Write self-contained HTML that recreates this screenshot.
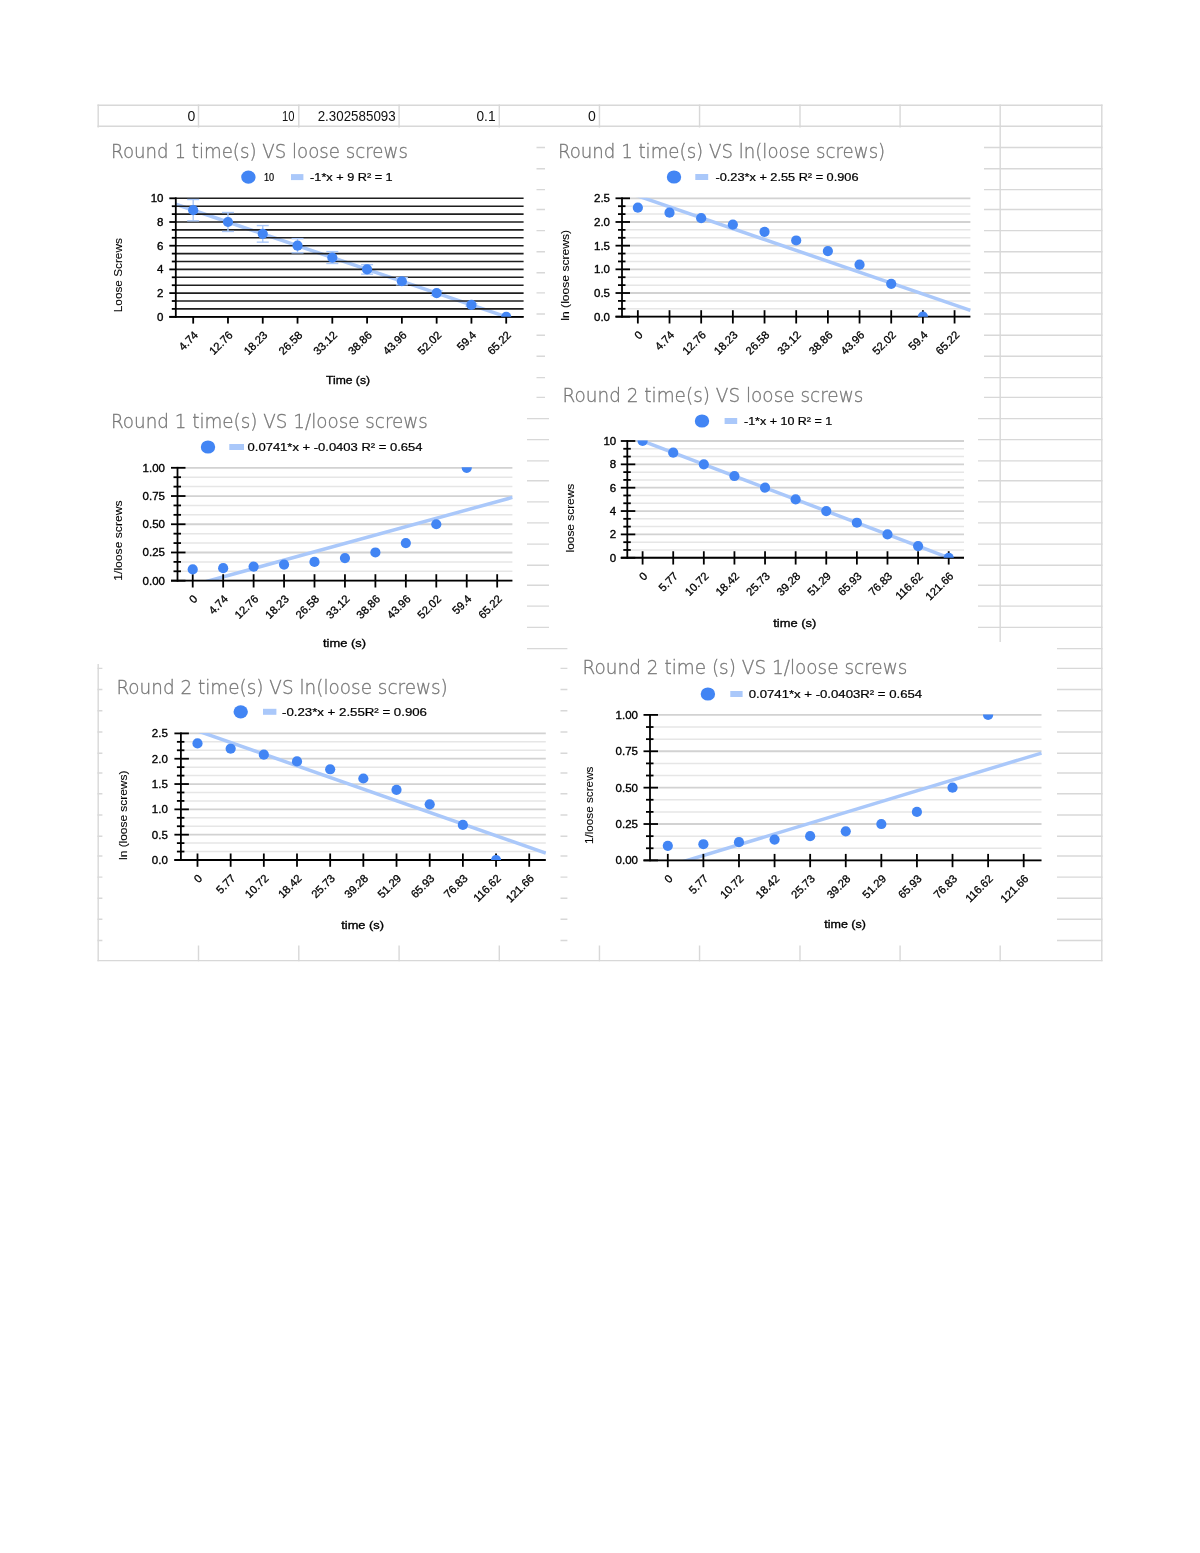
<!DOCTYPE html>
<html><head><meta charset="utf-8"><title>Charts</title>
<style>
html,body{margin:0;padding:0;background:#fff;width:1200px;height:1553px;overflow:hidden;}
svg{display:block;position:absolute;left:0;top:0;will-change:transform;}
</style></head><body>
<svg width="1200" height="1553" viewBox="0 0 1200 1553">
<line x1="98.2" y1="104.54" x2="98.2" y2="961.3" stroke="#d8d8d8" stroke-width="1.4"/>
<line x1="198.5" y1="104.54" x2="198.5" y2="961.3" stroke="#d8d8d8" stroke-width="1.4"/>
<line x1="298.8" y1="104.54" x2="298.8" y2="961.3" stroke="#d8d8d8" stroke-width="1.4"/>
<line x1="399.1" y1="104.54" x2="399.1" y2="961.3" stroke="#d8d8d8" stroke-width="1.4"/>
<line x1="499.3" y1="104.54" x2="499.3" y2="961.3" stroke="#d8d8d8" stroke-width="1.4"/>
<line x1="599.45" y1="104.54" x2="599.45" y2="961.3" stroke="#d8d8d8" stroke-width="1.4"/>
<line x1="699.55" y1="104.54" x2="699.55" y2="961.3" stroke="#d8d8d8" stroke-width="1.4"/>
<line x1="800" y1="104.54" x2="800" y2="961.3" stroke="#d8d8d8" stroke-width="1.4"/>
<line x1="900.1" y1="104.54" x2="900.1" y2="961.3" stroke="#d8d8d8" stroke-width="1.4"/>
<line x1="1000.2" y1="104.54" x2="1000.2" y2="961.3" stroke="#d8d8d8" stroke-width="1.4"/>
<line x1="1101.8" y1="104.54" x2="1101.8" y2="961.3" stroke="#d8d8d8" stroke-width="1.4"/>
<line x1="97.5" y1="105.24" x2="1102.5" y2="105.24" stroke="#d8d8d8" stroke-width="1.4"/>
<line x1="97.5" y1="126.2" x2="1102.5" y2="126.2" stroke="#d8d8d8" stroke-width="1.4"/>
<line x1="97.5" y1="147.45" x2="1102.5" y2="147.45" stroke="#d8d8d8" stroke-width="1.4"/>
<line x1="97.5" y1="168.7" x2="1102.5" y2="168.7" stroke="#d8d8d8" stroke-width="1.4"/>
<line x1="97.5" y1="189.66" x2="1102.5" y2="189.66" stroke="#d8d8d8" stroke-width="1.4"/>
<line x1="97.5" y1="209.5" x2="1102.5" y2="209.5" stroke="#d8d8d8" stroke-width="1.4"/>
<line x1="97.5" y1="230.6" x2="1102.5" y2="230.6" stroke="#d8d8d8" stroke-width="1.4"/>
<line x1="97.5" y1="251.8" x2="1102.5" y2="251.8" stroke="#d8d8d8" stroke-width="1.4"/>
<line x1="97.5" y1="272.8" x2="1102.5" y2="272.8" stroke="#d8d8d8" stroke-width="1.4"/>
<line x1="97.5" y1="292.9" x2="1102.5" y2="292.9" stroke="#d8d8d8" stroke-width="1.4"/>
<line x1="97.5" y1="313.95" x2="1102.5" y2="313.95" stroke="#d8d8d8" stroke-width="1.4"/>
<line x1="97.5" y1="335.2" x2="1102.5" y2="335.2" stroke="#d8d8d8" stroke-width="1.4"/>
<line x1="97.5" y1="356.3" x2="1102.5" y2="356.3" stroke="#d8d8d8" stroke-width="1.4"/>
<line x1="97.5" y1="377.6" x2="1102.5" y2="377.6" stroke="#d8d8d8" stroke-width="1.4"/>
<line x1="97.5" y1="397.4" x2="1102.5" y2="397.4" stroke="#d8d8d8" stroke-width="1.4"/>
<line x1="97.5" y1="418.6" x2="1102.5" y2="418.6" stroke="#d8d8d8" stroke-width="1.4"/>
<line x1="97.5" y1="439.6" x2="1102.5" y2="439.6" stroke="#d8d8d8" stroke-width="1.4"/>
<line x1="97.5" y1="460.85" x2="1102.5" y2="460.85" stroke="#d8d8d8" stroke-width="1.4"/>
<line x1="97.5" y1="480.7" x2="1102.5" y2="480.7" stroke="#d8d8d8" stroke-width="1.4"/>
<line x1="97.5" y1="501.9" x2="1102.5" y2="501.9" stroke="#d8d8d8" stroke-width="1.4"/>
<line x1="97.5" y1="522.85" x2="1102.5" y2="522.85" stroke="#d8d8d8" stroke-width="1.4"/>
<line x1="97.5" y1="544.1" x2="1102.5" y2="544.1" stroke="#d8d8d8" stroke-width="1.4"/>
<line x1="97.5" y1="565.3" x2="1102.5" y2="565.3" stroke="#d8d8d8" stroke-width="1.4"/>
<line x1="97.5" y1="585.2" x2="1102.5" y2="585.2" stroke="#d8d8d8" stroke-width="1.4"/>
<line x1="97.5" y1="606.1" x2="1102.5" y2="606.1" stroke="#d8d8d8" stroke-width="1.4"/>
<line x1="97.5" y1="627.4" x2="1102.5" y2="627.4" stroke="#d8d8d8" stroke-width="1.4"/>
<line x1="97.5" y1="648.6" x2="1102.5" y2="648.6" stroke="#d8d8d8" stroke-width="1.4"/>
<line x1="97.5" y1="668.4" x2="1102.5" y2="668.4" stroke="#d8d8d8" stroke-width="1.4"/>
<line x1="97.5" y1="689.5" x2="1102.5" y2="689.5" stroke="#d8d8d8" stroke-width="1.4"/>
<line x1="97.5" y1="710.8" x2="1102.5" y2="710.8" stroke="#d8d8d8" stroke-width="1.4"/>
<line x1="97.5" y1="732" x2="1102.5" y2="732" stroke="#d8d8d8" stroke-width="1.4"/>
<line x1="97.5" y1="753.2" x2="1102.5" y2="753.2" stroke="#d8d8d8" stroke-width="1.4"/>
<line x1="97.5" y1="773" x2="1102.5" y2="773" stroke="#d8d8d8" stroke-width="1.4"/>
<line x1="97.5" y1="793.8" x2="1102.5" y2="793.8" stroke="#d8d8d8" stroke-width="1.4"/>
<line x1="97.5" y1="815" x2="1102.5" y2="815" stroke="#d8d8d8" stroke-width="1.4"/>
<line x1="97.5" y1="836.3" x2="1102.5" y2="836.3" stroke="#d8d8d8" stroke-width="1.4"/>
<line x1="97.5" y1="856" x2="1102.5" y2="856" stroke="#d8d8d8" stroke-width="1.4"/>
<line x1="97.5" y1="877.1" x2="1102.5" y2="877.1" stroke="#d8d8d8" stroke-width="1.4"/>
<line x1="97.5" y1="898.2" x2="1102.5" y2="898.2" stroke="#d8d8d8" stroke-width="1.4"/>
<line x1="97.5" y1="919.3" x2="1102.5" y2="919.3" stroke="#d8d8d8" stroke-width="1.4"/>
<line x1="97.5" y1="940.5" x2="1102.5" y2="940.5" stroke="#d8d8d8" stroke-width="1.4"/>
<line x1="97.5" y1="960.6" x2="1102.5" y2="960.6" stroke="#d8d8d8" stroke-width="1.4"/>
<text x="195.3" y="121.3" font-size="14" fill="#111" font-family="'Liberation Sans', 'DejaVu Sans', sans-serif" text-anchor="end" textLength="7.8" lengthAdjust="spacingAndGlyphs">0</text>
<text x="294.6" y="121.3" font-size="14" fill="#111" font-family="'Liberation Sans', 'DejaVu Sans', sans-serif" text-anchor="end" textLength="12.5" lengthAdjust="spacingAndGlyphs">10</text>
<text x="395.7" y="121.3" font-size="14" fill="#111" font-family="'Liberation Sans', 'DejaVu Sans', sans-serif" text-anchor="end" textLength="78" lengthAdjust="spacingAndGlyphs">2.302585093</text>
<text x="495.5" y="121.3" font-size="14" fill="#111" font-family="'Liberation Sans', 'DejaVu Sans', sans-serif" text-anchor="end" textLength="19" lengthAdjust="spacingAndGlyphs">0.1</text>
<text x="595.8" y="121.3" font-size="14" fill="#111" font-family="'Liberation Sans', 'DejaVu Sans', sans-serif" text-anchor="end" textLength="7.8" lengthAdjust="spacingAndGlyphs">0</text>
<rect x="94" y="127.5" width="442.5" height="278.5" fill="#fff"/>
<rect x="545" y="127.5" width="439" height="272.5" fill="#fff"/>
<rect x="94" y="402" width="433" height="262" fill="#fff"/>
<rect x="549" y="388" width="429" height="254.5" fill="#fff"/>
<rect x="102.4" y="664" width="458.1" height="281.5" fill="#fff"/>
<rect x="567.4" y="642" width="489.6" height="303.5" fill="#fff"/>
<text x="111.1" y="158.3" font-size="19.5" fill="#767676" font-family="'DejaVu Sans', 'Liberation Sans', sans-serif" font-weight="200" textLength="296.8" lengthAdjust="spacingAndGlyphs" stroke="#767676" stroke-width="0.3">Round 1 time(s) VS loose screws</text>
<ellipse cx="248.4" cy="177.1" rx="7.2" ry="6.6" fill="#4285f4"/>
<rect x="291" y="174.1" width="12.4" height="6" fill="#aac8fa"/>
<text x="263.9" y="180.9" font-size="10.3" fill="#000" font-family="'Liberation Sans', 'DejaVu Sans', sans-serif" textLength="10.2" lengthAdjust="spacingAndGlyphs" stroke="#000" stroke-width="0.2">10</text>
<text x="310.1" y="180.9" font-size="10.3" fill="#000" font-family="'Liberation Sans', 'DejaVu Sans', sans-serif" textLength="82.6" lengthAdjust="spacingAndGlyphs" stroke="#000" stroke-width="0.2">-1*x + 9 R² = 1</text>
<clipPath id="c1"><rect x="175.8" y="197.8" width="348.3" height="119"/></clipPath>
<line x1="175.8" y1="204.23" x2="523.6" y2="322.73" stroke="#aac8fa" stroke-width="3.5" clip-path="url(#c1)"/>
<line x1="175.8" y1="316.8" x2="523.6" y2="316.8" stroke="#1e1e1e" stroke-width="1.6"/>
<line x1="175.8" y1="308.9" x2="523.6" y2="308.9" stroke="#1e1e1e" stroke-width="1.6"/>
<line x1="175.8" y1="301" x2="523.6" y2="301" stroke="#1e1e1e" stroke-width="1.6"/>
<line x1="175.8" y1="293.1" x2="523.6" y2="293.1" stroke="#1e1e1e" stroke-width="1.6"/>
<line x1="175.8" y1="285.2" x2="523.6" y2="285.2" stroke="#1e1e1e" stroke-width="1.6"/>
<line x1="175.8" y1="277.3" x2="523.6" y2="277.3" stroke="#1e1e1e" stroke-width="1.6"/>
<line x1="175.8" y1="269.4" x2="523.6" y2="269.4" stroke="#1e1e1e" stroke-width="1.6"/>
<line x1="175.8" y1="261.5" x2="523.6" y2="261.5" stroke="#1e1e1e" stroke-width="1.6"/>
<line x1="175.8" y1="253.6" x2="523.6" y2="253.6" stroke="#1e1e1e" stroke-width="1.6"/>
<line x1="175.8" y1="245.7" x2="523.6" y2="245.7" stroke="#1e1e1e" stroke-width="1.6"/>
<line x1="175.8" y1="237.8" x2="523.6" y2="237.8" stroke="#1e1e1e" stroke-width="1.6"/>
<line x1="175.8" y1="229.9" x2="523.6" y2="229.9" stroke="#1e1e1e" stroke-width="1.6"/>
<line x1="175.8" y1="222" x2="523.6" y2="222" stroke="#1e1e1e" stroke-width="1.6"/>
<line x1="175.8" y1="214.1" x2="523.6" y2="214.1" stroke="#1e1e1e" stroke-width="1.6"/>
<line x1="175.8" y1="206.2" x2="523.6" y2="206.2" stroke="#1e1e1e" stroke-width="1.6"/>
<line x1="175.8" y1="198.3" x2="523.6" y2="198.3" stroke="#1e1e1e" stroke-width="1.6"/>
<line x1="175.8" y1="197.4" x2="175.8" y2="317.7" stroke="#000" stroke-width="1.8"/>
<line x1="169.3" y1="316.8" x2="523.6" y2="316.8" stroke="#000" stroke-width="1.8"/>
<line x1="169.3" y1="316.8" x2="175.8" y2="316.8" stroke="#000" stroke-width="1.8"/>
<line x1="171.8" y1="308.9" x2="175.8" y2="308.9" stroke="#000" stroke-width="1.8"/>
<line x1="171.8" y1="301" x2="175.8" y2="301" stroke="#000" stroke-width="1.8"/>
<line x1="169.3" y1="293.1" x2="175.8" y2="293.1" stroke="#000" stroke-width="1.8"/>
<line x1="171.8" y1="285.2" x2="175.8" y2="285.2" stroke="#000" stroke-width="1.8"/>
<line x1="171.8" y1="277.3" x2="175.8" y2="277.3" stroke="#000" stroke-width="1.8"/>
<line x1="169.3" y1="269.4" x2="175.8" y2="269.4" stroke="#000" stroke-width="1.8"/>
<line x1="171.8" y1="261.5" x2="175.8" y2="261.5" stroke="#000" stroke-width="1.8"/>
<line x1="171.8" y1="253.6" x2="175.8" y2="253.6" stroke="#000" stroke-width="1.8"/>
<line x1="169.3" y1="245.7" x2="175.8" y2="245.7" stroke="#000" stroke-width="1.8"/>
<line x1="171.8" y1="237.8" x2="175.8" y2="237.8" stroke="#000" stroke-width="1.8"/>
<line x1="171.8" y1="229.9" x2="175.8" y2="229.9" stroke="#000" stroke-width="1.8"/>
<line x1="169.3" y1="222" x2="175.8" y2="222" stroke="#000" stroke-width="1.8"/>
<line x1="171.8" y1="214.1" x2="175.8" y2="214.1" stroke="#000" stroke-width="1.8"/>
<line x1="171.8" y1="206.2" x2="175.8" y2="206.2" stroke="#000" stroke-width="1.8"/>
<line x1="169.3" y1="198.3" x2="175.8" y2="198.3" stroke="#000" stroke-width="1.8"/>
<line x1="193.19" y1="316.8" x2="193.19" y2="323.6" stroke="#000" stroke-width="1.8"/>
<line x1="227.97" y1="316.8" x2="227.97" y2="323.6" stroke="#000" stroke-width="1.8"/>
<line x1="262.75" y1="316.8" x2="262.75" y2="323.6" stroke="#000" stroke-width="1.8"/>
<line x1="297.53" y1="316.8" x2="297.53" y2="323.6" stroke="#000" stroke-width="1.8"/>
<line x1="332.31" y1="316.8" x2="332.31" y2="323.6" stroke="#000" stroke-width="1.8"/>
<line x1="367.09" y1="316.8" x2="367.09" y2="323.6" stroke="#000" stroke-width="1.8"/>
<line x1="401.87" y1="316.8" x2="401.87" y2="323.6" stroke="#000" stroke-width="1.8"/>
<line x1="436.65" y1="316.8" x2="436.65" y2="323.6" stroke="#000" stroke-width="1.8"/>
<line x1="471.43" y1="316.8" x2="471.43" y2="323.6" stroke="#000" stroke-width="1.8"/>
<line x1="506.21" y1="316.8" x2="506.21" y2="323.6" stroke="#000" stroke-width="1.8"/>
<text x="163.5" y="320.8" font-size="11.5" fill="#000" font-family="'Liberation Sans', 'DejaVu Sans', sans-serif" text-anchor="end" stroke="#000" stroke-width="0.35">0</text>
<text x="163.5" y="297.1" font-size="11.5" fill="#000" font-family="'Liberation Sans', 'DejaVu Sans', sans-serif" text-anchor="end" stroke="#000" stroke-width="0.35">2</text>
<text x="163.5" y="273.4" font-size="11.5" fill="#000" font-family="'Liberation Sans', 'DejaVu Sans', sans-serif" text-anchor="end" stroke="#000" stroke-width="0.35">4</text>
<text x="163.5" y="249.7" font-size="11.5" fill="#000" font-family="'Liberation Sans', 'DejaVu Sans', sans-serif" text-anchor="end" stroke="#000" stroke-width="0.35">6</text>
<text x="163.5" y="226" font-size="11.5" fill="#000" font-family="'Liberation Sans', 'DejaVu Sans', sans-serif" text-anchor="end" stroke="#000" stroke-width="0.35">8</text>
<text x="163.5" y="202.3" font-size="11.5" fill="#000" font-family="'Liberation Sans', 'DejaVu Sans', sans-serif" text-anchor="end" stroke="#000" stroke-width="0.35">10</text>
<line x1="193.19" y1="199.49" x2="193.19" y2="220.82" stroke="#aac8fa" stroke-width="1.4"/>
<line x1="187.19" y1="199.49" x2="199.19" y2="199.49" stroke="#aac8fa" stroke-width="1.4"/>
<line x1="187.19" y1="220.82" x2="199.19" y2="220.82" stroke="#aac8fa" stroke-width="1.4"/>
<line x1="227.97" y1="212.52" x2="227.97" y2="231.48" stroke="#aac8fa" stroke-width="1.4"/>
<line x1="221.97" y1="212.52" x2="233.97" y2="212.52" stroke="#aac8fa" stroke-width="1.4"/>
<line x1="221.97" y1="231.48" x2="233.97" y2="231.48" stroke="#aac8fa" stroke-width="1.4"/>
<line x1="262.75" y1="225.56" x2="262.75" y2="242.15" stroke="#aac8fa" stroke-width="1.4"/>
<line x1="256.75" y1="225.56" x2="268.75" y2="225.56" stroke="#aac8fa" stroke-width="1.4"/>
<line x1="256.75" y1="242.15" x2="268.75" y2="242.15" stroke="#aac8fa" stroke-width="1.4"/>
<line x1="297.53" y1="238.59" x2="297.53" y2="252.81" stroke="#aac8fa" stroke-width="1.4"/>
<line x1="291.53" y1="238.59" x2="303.53" y2="238.59" stroke="#aac8fa" stroke-width="1.4"/>
<line x1="291.53" y1="252.81" x2="303.53" y2="252.81" stroke="#aac8fa" stroke-width="1.4"/>
<line x1="332.31" y1="251.62" x2="332.31" y2="263.48" stroke="#aac8fa" stroke-width="1.4"/>
<line x1="326.31" y1="251.62" x2="338.31" y2="251.62" stroke="#aac8fa" stroke-width="1.4"/>
<line x1="326.31" y1="263.48" x2="338.31" y2="263.48" stroke="#aac8fa" stroke-width="1.4"/>
<line x1="367.09" y1="264.66" x2="367.09" y2="274.14" stroke="#aac8fa" stroke-width="1.4"/>
<line x1="361.09" y1="264.66" x2="373.09" y2="264.66" stroke="#aac8fa" stroke-width="1.4"/>
<line x1="361.09" y1="274.14" x2="373.09" y2="274.14" stroke="#aac8fa" stroke-width="1.4"/>
<line x1="401.87" y1="277.69" x2="401.87" y2="284.81" stroke="#aac8fa" stroke-width="1.4"/>
<line x1="395.87" y1="277.69" x2="407.87" y2="277.69" stroke="#aac8fa" stroke-width="1.4"/>
<line x1="395.87" y1="284.81" x2="407.87" y2="284.81" stroke="#aac8fa" stroke-width="1.4"/>
<line x1="436.65" y1="290.73" x2="436.65" y2="295.47" stroke="#aac8fa" stroke-width="1.4"/>
<line x1="430.65" y1="290.73" x2="442.65" y2="290.73" stroke="#aac8fa" stroke-width="1.4"/>
<line x1="430.65" y1="295.47" x2="442.65" y2="295.47" stroke="#aac8fa" stroke-width="1.4"/>
<line x1="471.43" y1="303.76" x2="471.43" y2="306.13" stroke="#aac8fa" stroke-width="1.4"/>
<line x1="465.43" y1="303.76" x2="477.43" y2="303.76" stroke="#aac8fa" stroke-width="1.4"/>
<line x1="465.43" y1="306.13" x2="477.43" y2="306.13" stroke="#aac8fa" stroke-width="1.4"/>
<circle cx="193.19" cy="210.15" r="5.1" fill="#4285f4" clip-path="url(#c1)"/>
<circle cx="227.97" cy="222" r="5.1" fill="#4285f4" clip-path="url(#c1)"/>
<circle cx="262.75" cy="233.85" r="5.1" fill="#4285f4" clip-path="url(#c1)"/>
<circle cx="297.53" cy="245.7" r="5.1" fill="#4285f4" clip-path="url(#c1)"/>
<circle cx="332.31" cy="257.55" r="5.1" fill="#4285f4" clip-path="url(#c1)"/>
<circle cx="367.09" cy="269.4" r="5.1" fill="#4285f4" clip-path="url(#c1)"/>
<circle cx="401.87" cy="281.25" r="5.1" fill="#4285f4" clip-path="url(#c1)"/>
<circle cx="436.65" cy="293.1" r="5.1" fill="#4285f4" clip-path="url(#c1)"/>
<circle cx="471.43" cy="304.95" r="5.1" fill="#4285f4" clip-path="url(#c1)"/>
<circle cx="506.21" cy="316.8" r="5.1" fill="#4285f4" clip-path="url(#c1)"/>
<text x="0" y="0" font-size="11.2" fill="#000" font-family="'Liberation Sans', 'DejaVu Sans', sans-serif" text-anchor="end" transform="translate(198.69 335.8) rotate(-45)" stroke="#000" stroke-width="0.3">4.74</text>
<text x="0" y="0" font-size="11.2" fill="#000" font-family="'Liberation Sans', 'DejaVu Sans', sans-serif" text-anchor="end" transform="translate(233.47 335.8) rotate(-45)" stroke="#000" stroke-width="0.3">12.76</text>
<text x="0" y="0" font-size="11.2" fill="#000" font-family="'Liberation Sans', 'DejaVu Sans', sans-serif" text-anchor="end" transform="translate(268.25 335.8) rotate(-45)" stroke="#000" stroke-width="0.3">18.23</text>
<text x="0" y="0" font-size="11.2" fill="#000" font-family="'Liberation Sans', 'DejaVu Sans', sans-serif" text-anchor="end" transform="translate(303.03 335.8) rotate(-45)" stroke="#000" stroke-width="0.3">26.58</text>
<text x="0" y="0" font-size="11.2" fill="#000" font-family="'Liberation Sans', 'DejaVu Sans', sans-serif" text-anchor="end" transform="translate(337.81 335.8) rotate(-45)" stroke="#000" stroke-width="0.3">33.12</text>
<text x="0" y="0" font-size="11.2" fill="#000" font-family="'Liberation Sans', 'DejaVu Sans', sans-serif" text-anchor="end" transform="translate(372.59 335.8) rotate(-45)" stroke="#000" stroke-width="0.3">38.86</text>
<text x="0" y="0" font-size="11.2" fill="#000" font-family="'Liberation Sans', 'DejaVu Sans', sans-serif" text-anchor="end" transform="translate(407.37 335.8) rotate(-45)" stroke="#000" stroke-width="0.3">43.96</text>
<text x="0" y="0" font-size="11.2" fill="#000" font-family="'Liberation Sans', 'DejaVu Sans', sans-serif" text-anchor="end" transform="translate(442.15 335.8) rotate(-45)" stroke="#000" stroke-width="0.3">52.02</text>
<text x="0" y="0" font-size="11.2" fill="#000" font-family="'Liberation Sans', 'DejaVu Sans', sans-serif" text-anchor="end" transform="translate(476.93 335.8) rotate(-45)" stroke="#000" stroke-width="0.3">59.4</text>
<text x="0" y="0" font-size="11.2" fill="#000" font-family="'Liberation Sans', 'DejaVu Sans', sans-serif" text-anchor="end" transform="translate(511.71 335.8) rotate(-45)" stroke="#000" stroke-width="0.3">65.22</text>
<text x="348" y="383.75" font-size="11.5" fill="#000" font-family="'Liberation Sans', 'DejaVu Sans', sans-serif" text-anchor="middle" textLength="44" lengthAdjust="spacingAndGlyphs" stroke="#000" stroke-width="0.35">Time (s)</text>
<text x="0" y="0" font-size="11.5" fill="#000" font-family="'Liberation Sans', 'DejaVu Sans', sans-serif" text-anchor="middle" textLength="74" lengthAdjust="spacingAndGlyphs" transform="translate(121.7 275.2) rotate(-90)" stroke="#000" stroke-width="0.1">Loose Screws</text>
<text x="557.9" y="158.3" font-size="19.5" fill="#767676" font-family="'DejaVu Sans', 'Liberation Sans', sans-serif" font-weight="200" textLength="327.3" lengthAdjust="spacingAndGlyphs" stroke="#767676" stroke-width="0.3">Round 1 time(s) VS ln(loose screws)</text>
<ellipse cx="674" cy="177" rx="7.2" ry="6.6" fill="#4285f4"/>
<rect x="695.3" y="174" width="12.9" height="6" fill="#aac8fa"/>
<text x="715.5" y="180.8" font-size="10.3" fill="#000" font-family="'Liberation Sans', 'DejaVu Sans', sans-serif" textLength="143" lengthAdjust="spacingAndGlyphs" stroke="#000" stroke-width="0.2">-0.23*x + 2.55 R² = 0.906</text>
<clipPath id="c2"><rect x="622" y="197.8" width="348.9" height="118.9"/></clipPath>
<line x1="622" y1="316.7" x2="970.4" y2="316.7" stroke="#d2d2d2" stroke-width="1.8"/>
<line x1="622" y1="308.81" x2="970.4" y2="308.81" stroke="#e6e6e6" stroke-width="1.5"/>
<line x1="622" y1="300.91" x2="970.4" y2="300.91" stroke="#e6e6e6" stroke-width="1.5"/>
<line x1="622" y1="293.02" x2="970.4" y2="293.02" stroke="#d2d2d2" stroke-width="1.8"/>
<line x1="622" y1="285.13" x2="970.4" y2="285.13" stroke="#e6e6e6" stroke-width="1.5"/>
<line x1="622" y1="277.23" x2="970.4" y2="277.23" stroke="#e6e6e6" stroke-width="1.5"/>
<line x1="622" y1="269.34" x2="970.4" y2="269.34" stroke="#d2d2d2" stroke-width="1.8"/>
<line x1="622" y1="261.45" x2="970.4" y2="261.45" stroke="#e6e6e6" stroke-width="1.5"/>
<line x1="622" y1="253.55" x2="970.4" y2="253.55" stroke="#e6e6e6" stroke-width="1.5"/>
<line x1="622" y1="245.66" x2="970.4" y2="245.66" stroke="#d2d2d2" stroke-width="1.8"/>
<line x1="622" y1="237.77" x2="970.4" y2="237.77" stroke="#e6e6e6" stroke-width="1.5"/>
<line x1="622" y1="229.87" x2="970.4" y2="229.87" stroke="#e6e6e6" stroke-width="1.5"/>
<line x1="622" y1="221.98" x2="970.4" y2="221.98" stroke="#d2d2d2" stroke-width="1.8"/>
<line x1="622" y1="214.09" x2="970.4" y2="214.09" stroke="#e6e6e6" stroke-width="1.5"/>
<line x1="622" y1="206.19" x2="970.4" y2="206.19" stroke="#e6e6e6" stroke-width="1.5"/>
<line x1="622" y1="198.3" x2="970.4" y2="198.3" stroke="#d2d2d2" stroke-width="1.8"/>
<line x1="622" y1="190.49" x2="970.4" y2="310.31" stroke="#aac8fa" stroke-width="3.5" clip-path="url(#c2)"/>
<line x1="622" y1="197.4" x2="622" y2="317.6" stroke="#000" stroke-width="1.8"/>
<line x1="615.5" y1="316.7" x2="970.4" y2="316.7" stroke="#000" stroke-width="1.8"/>
<line x1="615.5" y1="316.7" x2="630" y2="316.7" stroke="#000" stroke-width="1.8"/>
<line x1="618" y1="308.81" x2="625.5" y2="308.81" stroke="#000" stroke-width="1.8"/>
<line x1="618" y1="300.91" x2="625.5" y2="300.91" stroke="#000" stroke-width="1.8"/>
<line x1="615.5" y1="293.02" x2="630" y2="293.02" stroke="#000" stroke-width="1.8"/>
<line x1="618" y1="285.13" x2="625.5" y2="285.13" stroke="#000" stroke-width="1.8"/>
<line x1="618" y1="277.23" x2="625.5" y2="277.23" stroke="#000" stroke-width="1.8"/>
<line x1="615.5" y1="269.34" x2="630" y2="269.34" stroke="#000" stroke-width="1.8"/>
<line x1="618" y1="261.45" x2="625.5" y2="261.45" stroke="#000" stroke-width="1.8"/>
<line x1="618" y1="253.55" x2="625.5" y2="253.55" stroke="#000" stroke-width="1.8"/>
<line x1="615.5" y1="245.66" x2="630" y2="245.66" stroke="#000" stroke-width="1.8"/>
<line x1="618" y1="237.77" x2="625.5" y2="237.77" stroke="#000" stroke-width="1.8"/>
<line x1="618" y1="229.87" x2="625.5" y2="229.87" stroke="#000" stroke-width="1.8"/>
<line x1="615.5" y1="221.98" x2="630" y2="221.98" stroke="#000" stroke-width="1.8"/>
<line x1="618" y1="214.09" x2="625.5" y2="214.09" stroke="#000" stroke-width="1.8"/>
<line x1="618" y1="206.19" x2="625.5" y2="206.19" stroke="#000" stroke-width="1.8"/>
<line x1="615.5" y1="198.3" x2="630" y2="198.3" stroke="#000" stroke-width="1.8"/>
<line x1="637.84" y1="310.2" x2="637.84" y2="323.5" stroke="#000" stroke-width="1.8"/>
<line x1="669.51" y1="310.2" x2="669.51" y2="323.5" stroke="#000" stroke-width="1.8"/>
<line x1="701.18" y1="310.2" x2="701.18" y2="323.5" stroke="#000" stroke-width="1.8"/>
<line x1="732.85" y1="310.2" x2="732.85" y2="323.5" stroke="#000" stroke-width="1.8"/>
<line x1="764.53" y1="310.2" x2="764.53" y2="323.5" stroke="#000" stroke-width="1.8"/>
<line x1="796.2" y1="310.2" x2="796.2" y2="323.5" stroke="#000" stroke-width="1.8"/>
<line x1="827.87" y1="310.2" x2="827.87" y2="323.5" stroke="#000" stroke-width="1.8"/>
<line x1="859.55" y1="310.2" x2="859.55" y2="323.5" stroke="#000" stroke-width="1.8"/>
<line x1="891.22" y1="310.2" x2="891.22" y2="323.5" stroke="#000" stroke-width="1.8"/>
<line x1="922.89" y1="310.2" x2="922.89" y2="323.5" stroke="#000" stroke-width="1.8"/>
<line x1="954.56" y1="310.2" x2="954.56" y2="323.5" stroke="#000" stroke-width="1.8"/>
<text x="610" y="320.7" font-size="11.5" fill="#000" font-family="'Liberation Sans', 'DejaVu Sans', sans-serif" text-anchor="end" stroke="#000" stroke-width="0.35">0.0</text>
<text x="610" y="297.02" font-size="11.5" fill="#000" font-family="'Liberation Sans', 'DejaVu Sans', sans-serif" text-anchor="end" stroke="#000" stroke-width="0.35">0.5</text>
<text x="610" y="273.34" font-size="11.5" fill="#000" font-family="'Liberation Sans', 'DejaVu Sans', sans-serif" text-anchor="end" stroke="#000" stroke-width="0.35">1.0</text>
<text x="610" y="249.66" font-size="11.5" fill="#000" font-family="'Liberation Sans', 'DejaVu Sans', sans-serif" text-anchor="end" stroke="#000" stroke-width="0.35">1.5</text>
<text x="610" y="225.98" font-size="11.5" fill="#000" font-family="'Liberation Sans', 'DejaVu Sans', sans-serif" text-anchor="end" stroke="#000" stroke-width="0.35">2.0</text>
<text x="610" y="202.3" font-size="11.5" fill="#000" font-family="'Liberation Sans', 'DejaVu Sans', sans-serif" text-anchor="end" stroke="#000" stroke-width="0.35">2.5</text>
<circle cx="637.84" cy="207.65" r="5.1" fill="#4285f4" clip-path="url(#c2)"/>
<circle cx="669.51" cy="212.64" r="5.1" fill="#4285f4" clip-path="url(#c2)"/>
<circle cx="701.18" cy="218.22" r="5.1" fill="#4285f4" clip-path="url(#c2)"/>
<circle cx="732.85" cy="224.54" r="5.1" fill="#4285f4" clip-path="url(#c2)"/>
<circle cx="764.53" cy="231.84" r="5.1" fill="#4285f4" clip-path="url(#c2)"/>
<circle cx="796.2" cy="240.48" r="5.1" fill="#4285f4" clip-path="url(#c2)"/>
<circle cx="827.87" cy="251.05" r="5.1" fill="#4285f4" clip-path="url(#c2)"/>
<circle cx="859.55" cy="264.67" r="5.1" fill="#4285f4" clip-path="url(#c2)"/>
<circle cx="891.22" cy="283.87" r="5.1" fill="#4285f4" clip-path="url(#c2)"/>
<circle cx="922.89" cy="316.7" r="5.1" fill="#4285f4" clip-path="url(#c2)"/>
<text x="0" y="0" font-size="11.2" fill="#000" font-family="'Liberation Sans', 'DejaVu Sans', sans-serif" text-anchor="end" transform="translate(643.34 335.7) rotate(-45)" stroke="#000" stroke-width="0.3">0</text>
<text x="0" y="0" font-size="11.2" fill="#000" font-family="'Liberation Sans', 'DejaVu Sans', sans-serif" text-anchor="end" transform="translate(675.01 335.7) rotate(-45)" stroke="#000" stroke-width="0.3">4.74</text>
<text x="0" y="0" font-size="11.2" fill="#000" font-family="'Liberation Sans', 'DejaVu Sans', sans-serif" text-anchor="end" transform="translate(706.68 335.7) rotate(-45)" stroke="#000" stroke-width="0.3">12.76</text>
<text x="0" y="0" font-size="11.2" fill="#000" font-family="'Liberation Sans', 'DejaVu Sans', sans-serif" text-anchor="end" transform="translate(738.35 335.7) rotate(-45)" stroke="#000" stroke-width="0.3">18.23</text>
<text x="0" y="0" font-size="11.2" fill="#000" font-family="'Liberation Sans', 'DejaVu Sans', sans-serif" text-anchor="end" transform="translate(770.03 335.7) rotate(-45)" stroke="#000" stroke-width="0.3">26.58</text>
<text x="0" y="0" font-size="11.2" fill="#000" font-family="'Liberation Sans', 'DejaVu Sans', sans-serif" text-anchor="end" transform="translate(801.7 335.7) rotate(-45)" stroke="#000" stroke-width="0.3">33.12</text>
<text x="0" y="0" font-size="11.2" fill="#000" font-family="'Liberation Sans', 'DejaVu Sans', sans-serif" text-anchor="end" transform="translate(833.37 335.7) rotate(-45)" stroke="#000" stroke-width="0.3">38.86</text>
<text x="0" y="0" font-size="11.2" fill="#000" font-family="'Liberation Sans', 'DejaVu Sans', sans-serif" text-anchor="end" transform="translate(865.05 335.7) rotate(-45)" stroke="#000" stroke-width="0.3">43.96</text>
<text x="0" y="0" font-size="11.2" fill="#000" font-family="'Liberation Sans', 'DejaVu Sans', sans-serif" text-anchor="end" transform="translate(896.72 335.7) rotate(-45)" stroke="#000" stroke-width="0.3">52.02</text>
<text x="0" y="0" font-size="11.2" fill="#000" font-family="'Liberation Sans', 'DejaVu Sans', sans-serif" text-anchor="end" transform="translate(928.39 335.7) rotate(-45)" stroke="#000" stroke-width="0.3">59.4</text>
<text x="0" y="0" font-size="11.2" fill="#000" font-family="'Liberation Sans', 'DejaVu Sans', sans-serif" text-anchor="end" transform="translate(960.06 335.7) rotate(-45)" stroke="#000" stroke-width="0.3">65.22</text>
<text x="0" y="0" font-size="11.5" fill="#000" font-family="'Liberation Sans', 'DejaVu Sans', sans-serif" text-anchor="middle" textLength="90.7" lengthAdjust="spacingAndGlyphs" transform="translate(569 275.3) rotate(-90)" stroke="#000" stroke-width="0.1">ln (loose screws)</text>
<text x="110.9" y="427.7" font-size="19.5" fill="#767676" font-family="'DejaVu Sans', 'Liberation Sans', sans-serif" font-weight="200" textLength="317" lengthAdjust="spacingAndGlyphs" stroke="#767676" stroke-width="0.3">Round 1 time(s) VS 1/loose screws</text>
<ellipse cx="208" cy="447" rx="7.2" ry="6.6" fill="#4285f4"/>
<rect x="229.3" y="444" width="14.7" height="6" fill="#aac8fa"/>
<text x="247.6" y="450.8" font-size="10.3" fill="#000" font-family="'Liberation Sans', 'DejaVu Sans', sans-serif" textLength="174.9" lengthAdjust="spacingAndGlyphs" stroke="#000" stroke-width="0.2">0.0741*x + -0.0403 R² = 0.654</text>
<clipPath id="c3"><rect x="177.5" y="467.3" width="335.4" height="113.4"/></clipPath>
<line x1="177.5" y1="580.7" x2="512.4" y2="580.7" stroke="#d2d2d2" stroke-width="1.8"/>
<line x1="177.5" y1="571.29" x2="512.4" y2="571.29" stroke="#e6e6e6" stroke-width="1.5"/>
<line x1="177.5" y1="561.88" x2="512.4" y2="561.88" stroke="#e6e6e6" stroke-width="1.5"/>
<line x1="177.5" y1="552.48" x2="512.4" y2="552.48" stroke="#d2d2d2" stroke-width="1.8"/>
<line x1="177.5" y1="543.07" x2="512.4" y2="543.07" stroke="#e6e6e6" stroke-width="1.5"/>
<line x1="177.5" y1="533.66" x2="512.4" y2="533.66" stroke="#e6e6e6" stroke-width="1.5"/>
<line x1="177.5" y1="524.25" x2="512.4" y2="524.25" stroke="#d2d2d2" stroke-width="1.8"/>
<line x1="177.5" y1="514.84" x2="512.4" y2="514.84" stroke="#e6e6e6" stroke-width="1.5"/>
<line x1="177.5" y1="505.43" x2="512.4" y2="505.43" stroke="#e6e6e6" stroke-width="1.5"/>
<line x1="177.5" y1="496.03" x2="512.4" y2="496.03" stroke="#d2d2d2" stroke-width="1.8"/>
<line x1="177.5" y1="486.62" x2="512.4" y2="486.62" stroke="#e6e6e6" stroke-width="1.5"/>
<line x1="177.5" y1="477.21" x2="512.4" y2="477.21" stroke="#e6e6e6" stroke-width="1.5"/>
<line x1="177.5" y1="467.8" x2="512.4" y2="467.8" stroke="#d2d2d2" stroke-width="1.8"/>
<line x1="177.5" y1="589.43" x2="512.4" y2="497.41" stroke="#aac8fa" stroke-width="3.5" clip-path="url(#c3)"/>
<line x1="177.5" y1="466.9" x2="177.5" y2="581.6" stroke="#000" stroke-width="1.8"/>
<line x1="171" y1="580.7" x2="512.4" y2="580.7" stroke="#000" stroke-width="1.8"/>
<line x1="171" y1="580.7" x2="185.5" y2="580.7" stroke="#000" stroke-width="1.8"/>
<line x1="173.5" y1="571.29" x2="181" y2="571.29" stroke="#000" stroke-width="1.8"/>
<line x1="173.5" y1="561.88" x2="181" y2="561.88" stroke="#000" stroke-width="1.8"/>
<line x1="171" y1="552.48" x2="185.5" y2="552.48" stroke="#000" stroke-width="1.8"/>
<line x1="173.5" y1="543.07" x2="181" y2="543.07" stroke="#000" stroke-width="1.8"/>
<line x1="173.5" y1="533.66" x2="181" y2="533.66" stroke="#000" stroke-width="1.8"/>
<line x1="171" y1="524.25" x2="185.5" y2="524.25" stroke="#000" stroke-width="1.8"/>
<line x1="173.5" y1="514.84" x2="181" y2="514.84" stroke="#000" stroke-width="1.8"/>
<line x1="173.5" y1="505.43" x2="181" y2="505.43" stroke="#000" stroke-width="1.8"/>
<line x1="171" y1="496.03" x2="185.5" y2="496.03" stroke="#000" stroke-width="1.8"/>
<line x1="173.5" y1="486.62" x2="181" y2="486.62" stroke="#000" stroke-width="1.8"/>
<line x1="173.5" y1="477.21" x2="181" y2="477.21" stroke="#000" stroke-width="1.8"/>
<line x1="171" y1="467.8" x2="185.5" y2="467.8" stroke="#000" stroke-width="1.8"/>
<line x1="192.72" y1="574.2" x2="192.72" y2="587.5" stroke="#000" stroke-width="1.8"/>
<line x1="223.17" y1="574.2" x2="223.17" y2="587.5" stroke="#000" stroke-width="1.8"/>
<line x1="253.61" y1="574.2" x2="253.61" y2="587.5" stroke="#000" stroke-width="1.8"/>
<line x1="284.06" y1="574.2" x2="284.06" y2="587.5" stroke="#000" stroke-width="1.8"/>
<line x1="314.5" y1="574.2" x2="314.5" y2="587.5" stroke="#000" stroke-width="1.8"/>
<line x1="344.95" y1="574.2" x2="344.95" y2="587.5" stroke="#000" stroke-width="1.8"/>
<line x1="375.4" y1="574.2" x2="375.4" y2="587.5" stroke="#000" stroke-width="1.8"/>
<line x1="405.84" y1="574.2" x2="405.84" y2="587.5" stroke="#000" stroke-width="1.8"/>
<line x1="436.29" y1="574.2" x2="436.29" y2="587.5" stroke="#000" stroke-width="1.8"/>
<line x1="466.73" y1="574.2" x2="466.73" y2="587.5" stroke="#000" stroke-width="1.8"/>
<line x1="497.18" y1="574.2" x2="497.18" y2="587.5" stroke="#000" stroke-width="1.8"/>
<text x="165" y="584.7" font-size="11.5" fill="#000" font-family="'Liberation Sans', 'DejaVu Sans', sans-serif" text-anchor="end" stroke="#000" stroke-width="0.35">0.00</text>
<text x="165" y="556.48" font-size="11.5" fill="#000" font-family="'Liberation Sans', 'DejaVu Sans', sans-serif" text-anchor="end" stroke="#000" stroke-width="0.35">0.25</text>
<text x="165" y="528.25" font-size="11.5" fill="#000" font-family="'Liberation Sans', 'DejaVu Sans', sans-serif" text-anchor="end" stroke="#000" stroke-width="0.35">0.50</text>
<text x="165" y="500.03" font-size="11.5" fill="#000" font-family="'Liberation Sans', 'DejaVu Sans', sans-serif" text-anchor="end" stroke="#000" stroke-width="0.35">0.75</text>
<text x="165" y="471.8" font-size="11.5" fill="#000" font-family="'Liberation Sans', 'DejaVu Sans', sans-serif" text-anchor="end" stroke="#000" stroke-width="0.35">1.00</text>
<circle cx="192.72" cy="569.41" r="5.1" fill="#4285f4" clip-path="url(#c3)"/>
<circle cx="223.17" cy="568.16" r="5.1" fill="#4285f4" clip-path="url(#c3)"/>
<circle cx="253.61" cy="566.59" r="5.1" fill="#4285f4" clip-path="url(#c3)"/>
<circle cx="284.06" cy="564.57" r="5.1" fill="#4285f4" clip-path="url(#c3)"/>
<circle cx="314.5" cy="561.88" r="5.1" fill="#4285f4" clip-path="url(#c3)"/>
<circle cx="344.95" cy="558.12" r="5.1" fill="#4285f4" clip-path="url(#c3)"/>
<circle cx="375.4" cy="552.48" r="5.1" fill="#4285f4" clip-path="url(#c3)"/>
<circle cx="405.84" cy="543.07" r="5.1" fill="#4285f4" clip-path="url(#c3)"/>
<circle cx="436.29" cy="524.25" r="5.1" fill="#4285f4" clip-path="url(#c3)"/>
<circle cx="466.73" cy="467.8" r="5.1" fill="#4285f4" clip-path="url(#c3)"/>
<text x="0" y="0" font-size="11.2" fill="#000" font-family="'Liberation Sans', 'DejaVu Sans', sans-serif" text-anchor="end" transform="translate(198.22 599.7) rotate(-45)" stroke="#000" stroke-width="0.3">0</text>
<text x="0" y="0" font-size="11.2" fill="#000" font-family="'Liberation Sans', 'DejaVu Sans', sans-serif" text-anchor="end" transform="translate(228.67 599.7) rotate(-45)" stroke="#000" stroke-width="0.3">4.74</text>
<text x="0" y="0" font-size="11.2" fill="#000" font-family="'Liberation Sans', 'DejaVu Sans', sans-serif" text-anchor="end" transform="translate(259.11 599.7) rotate(-45)" stroke="#000" stroke-width="0.3">12.76</text>
<text x="0" y="0" font-size="11.2" fill="#000" font-family="'Liberation Sans', 'DejaVu Sans', sans-serif" text-anchor="end" transform="translate(289.56 599.7) rotate(-45)" stroke="#000" stroke-width="0.3">18.23</text>
<text x="0" y="0" font-size="11.2" fill="#000" font-family="'Liberation Sans', 'DejaVu Sans', sans-serif" text-anchor="end" transform="translate(320 599.7) rotate(-45)" stroke="#000" stroke-width="0.3">26.58</text>
<text x="0" y="0" font-size="11.2" fill="#000" font-family="'Liberation Sans', 'DejaVu Sans', sans-serif" text-anchor="end" transform="translate(350.45 599.7) rotate(-45)" stroke="#000" stroke-width="0.3">33.12</text>
<text x="0" y="0" font-size="11.2" fill="#000" font-family="'Liberation Sans', 'DejaVu Sans', sans-serif" text-anchor="end" transform="translate(380.9 599.7) rotate(-45)" stroke="#000" stroke-width="0.3">38.86</text>
<text x="0" y="0" font-size="11.2" fill="#000" font-family="'Liberation Sans', 'DejaVu Sans', sans-serif" text-anchor="end" transform="translate(411.34 599.7) rotate(-45)" stroke="#000" stroke-width="0.3">43.96</text>
<text x="0" y="0" font-size="11.2" fill="#000" font-family="'Liberation Sans', 'DejaVu Sans', sans-serif" text-anchor="end" transform="translate(441.79 599.7) rotate(-45)" stroke="#000" stroke-width="0.3">52.02</text>
<text x="0" y="0" font-size="11.2" fill="#000" font-family="'Liberation Sans', 'DejaVu Sans', sans-serif" text-anchor="end" transform="translate(472.23 599.7) rotate(-45)" stroke="#000" stroke-width="0.3">59.4</text>
<text x="0" y="0" font-size="11.2" fill="#000" font-family="'Liberation Sans', 'DejaVu Sans', sans-serif" text-anchor="end" transform="translate(502.68 599.7) rotate(-45)" stroke="#000" stroke-width="0.3">65.22</text>
<text x="344.5" y="646.5" font-size="11.5" fill="#000" font-family="'Liberation Sans', 'DejaVu Sans', sans-serif" text-anchor="middle" textLength="43" lengthAdjust="spacingAndGlyphs" stroke="#000" stroke-width="0.35">time (s)</text>
<text x="0" y="0" font-size="11.5" fill="#000" font-family="'Liberation Sans', 'DejaVu Sans', sans-serif" text-anchor="middle" textLength="80.2" lengthAdjust="spacingAndGlyphs" transform="translate(121.8 540.6) rotate(-90)" stroke="#000" stroke-width="0.1">1/loose screws</text>
<text x="562.5" y="402.2" font-size="19.5" fill="#767676" font-family="'DejaVu Sans', 'Liberation Sans', sans-serif" font-weight="200" textLength="300.9" lengthAdjust="spacingAndGlyphs" stroke="#767676" stroke-width="0.3">Round 2 time(s) VS loose screws</text>
<ellipse cx="702" cy="421" rx="7.2" ry="6.6" fill="#4285f4"/>
<rect x="724.6" y="418" width="12.6" height="6" fill="#aac8fa"/>
<text x="744" y="424.8" font-size="10.3" fill="#000" font-family="'Liberation Sans', 'DejaVu Sans', sans-serif" textLength="88.2" lengthAdjust="spacingAndGlyphs" stroke="#000" stroke-width="0.2">-1*x + 10 R² = 1</text>
<clipPath id="c4"><rect x="627.3" y="440.5" width="337.2" height="117.25"/></clipPath>
<line x1="627.3" y1="557.75" x2="964" y2="557.75" stroke="#d2d2d2" stroke-width="1.8"/>
<line x1="627.3" y1="549.97" x2="964" y2="549.97" stroke="#e6e6e6" stroke-width="1.5"/>
<line x1="627.3" y1="542.18" x2="964" y2="542.18" stroke="#e6e6e6" stroke-width="1.5"/>
<line x1="627.3" y1="534.4" x2="964" y2="534.4" stroke="#d2d2d2" stroke-width="1.8"/>
<line x1="627.3" y1="526.62" x2="964" y2="526.62" stroke="#e6e6e6" stroke-width="1.5"/>
<line x1="627.3" y1="518.83" x2="964" y2="518.83" stroke="#e6e6e6" stroke-width="1.5"/>
<line x1="627.3" y1="511.05" x2="964" y2="511.05" stroke="#d2d2d2" stroke-width="1.8"/>
<line x1="627.3" y1="503.27" x2="964" y2="503.27" stroke="#e6e6e6" stroke-width="1.5"/>
<line x1="627.3" y1="495.48" x2="964" y2="495.48" stroke="#e6e6e6" stroke-width="1.5"/>
<line x1="627.3" y1="487.7" x2="964" y2="487.7" stroke="#d2d2d2" stroke-width="1.8"/>
<line x1="627.3" y1="479.92" x2="964" y2="479.92" stroke="#e6e6e6" stroke-width="1.5"/>
<line x1="627.3" y1="472.13" x2="964" y2="472.13" stroke="#e6e6e6" stroke-width="1.5"/>
<line x1="627.3" y1="464.35" x2="964" y2="464.35" stroke="#d2d2d2" stroke-width="1.8"/>
<line x1="627.3" y1="456.57" x2="964" y2="456.57" stroke="#e6e6e6" stroke-width="1.5"/>
<line x1="627.3" y1="448.78" x2="964" y2="448.78" stroke="#e6e6e6" stroke-width="1.5"/>
<line x1="627.3" y1="441" x2="964" y2="441" stroke="#d2d2d2" stroke-width="1.8"/>
<line x1="627.3" y1="435.16" x2="964" y2="563.59" stroke="#aac8fa" stroke-width="3.5" clip-path="url(#c4)"/>
<line x1="627.3" y1="440.1" x2="627.3" y2="558.65" stroke="#000" stroke-width="1.8"/>
<line x1="620.8" y1="557.75" x2="964" y2="557.75" stroke="#000" stroke-width="1.8"/>
<line x1="620.8" y1="557.75" x2="635.3" y2="557.75" stroke="#000" stroke-width="1.8"/>
<line x1="623.3" y1="549.97" x2="630.8" y2="549.97" stroke="#000" stroke-width="1.8"/>
<line x1="623.3" y1="542.18" x2="630.8" y2="542.18" stroke="#000" stroke-width="1.8"/>
<line x1="620.8" y1="534.4" x2="635.3" y2="534.4" stroke="#000" stroke-width="1.8"/>
<line x1="623.3" y1="526.62" x2="630.8" y2="526.62" stroke="#000" stroke-width="1.8"/>
<line x1="623.3" y1="518.83" x2="630.8" y2="518.83" stroke="#000" stroke-width="1.8"/>
<line x1="620.8" y1="511.05" x2="635.3" y2="511.05" stroke="#000" stroke-width="1.8"/>
<line x1="623.3" y1="503.27" x2="630.8" y2="503.27" stroke="#000" stroke-width="1.8"/>
<line x1="623.3" y1="495.48" x2="630.8" y2="495.48" stroke="#000" stroke-width="1.8"/>
<line x1="620.8" y1="487.7" x2="635.3" y2="487.7" stroke="#000" stroke-width="1.8"/>
<line x1="623.3" y1="479.92" x2="630.8" y2="479.92" stroke="#000" stroke-width="1.8"/>
<line x1="623.3" y1="472.13" x2="630.8" y2="472.13" stroke="#000" stroke-width="1.8"/>
<line x1="620.8" y1="464.35" x2="635.3" y2="464.35" stroke="#000" stroke-width="1.8"/>
<line x1="623.3" y1="456.57" x2="630.8" y2="456.57" stroke="#000" stroke-width="1.8"/>
<line x1="623.3" y1="448.78" x2="630.8" y2="448.78" stroke="#000" stroke-width="1.8"/>
<line x1="620.8" y1="441" x2="635.3" y2="441" stroke="#000" stroke-width="1.8"/>
<line x1="642.6" y1="551.25" x2="642.6" y2="564.55" stroke="#000" stroke-width="1.8"/>
<line x1="673.21" y1="551.25" x2="673.21" y2="564.55" stroke="#000" stroke-width="1.8"/>
<line x1="703.82" y1="551.25" x2="703.82" y2="564.55" stroke="#000" stroke-width="1.8"/>
<line x1="734.43" y1="551.25" x2="734.43" y2="564.55" stroke="#000" stroke-width="1.8"/>
<line x1="765.04" y1="551.25" x2="765.04" y2="564.55" stroke="#000" stroke-width="1.8"/>
<line x1="795.65" y1="551.25" x2="795.65" y2="564.55" stroke="#000" stroke-width="1.8"/>
<line x1="826.26" y1="551.25" x2="826.26" y2="564.55" stroke="#000" stroke-width="1.8"/>
<line x1="856.87" y1="551.25" x2="856.87" y2="564.55" stroke="#000" stroke-width="1.8"/>
<line x1="887.48" y1="551.25" x2="887.48" y2="564.55" stroke="#000" stroke-width="1.8"/>
<line x1="918.09" y1="551.25" x2="918.09" y2="564.55" stroke="#000" stroke-width="1.8"/>
<line x1="948.7" y1="551.25" x2="948.7" y2="564.55" stroke="#000" stroke-width="1.8"/>
<text x="616.25" y="561.75" font-size="11.5" fill="#000" font-family="'Liberation Sans', 'DejaVu Sans', sans-serif" text-anchor="end" stroke="#000" stroke-width="0.35">0</text>
<text x="616.25" y="538.4" font-size="11.5" fill="#000" font-family="'Liberation Sans', 'DejaVu Sans', sans-serif" text-anchor="end" stroke="#000" stroke-width="0.35">2</text>
<text x="616.25" y="515.05" font-size="11.5" fill="#000" font-family="'Liberation Sans', 'DejaVu Sans', sans-serif" text-anchor="end" stroke="#000" stroke-width="0.35">4</text>
<text x="616.25" y="491.7" font-size="11.5" fill="#000" font-family="'Liberation Sans', 'DejaVu Sans', sans-serif" text-anchor="end" stroke="#000" stroke-width="0.35">6</text>
<text x="616.25" y="468.35" font-size="11.5" fill="#000" font-family="'Liberation Sans', 'DejaVu Sans', sans-serif" text-anchor="end" stroke="#000" stroke-width="0.35">8</text>
<text x="616.25" y="445" font-size="11.5" fill="#000" font-family="'Liberation Sans', 'DejaVu Sans', sans-serif" text-anchor="end" stroke="#000" stroke-width="0.35">10</text>
<circle cx="642.6" cy="441" r="5.1" fill="#4285f4" clip-path="url(#c4)"/>
<circle cx="673.21" cy="452.68" r="5.1" fill="#4285f4" clip-path="url(#c4)"/>
<circle cx="703.82" cy="464.35" r="5.1" fill="#4285f4" clip-path="url(#c4)"/>
<circle cx="734.43" cy="476.02" r="5.1" fill="#4285f4" clip-path="url(#c4)"/>
<circle cx="765.04" cy="487.7" r="5.1" fill="#4285f4" clip-path="url(#c4)"/>
<circle cx="795.65" cy="499.38" r="5.1" fill="#4285f4" clip-path="url(#c4)"/>
<circle cx="826.26" cy="511.05" r="5.1" fill="#4285f4" clip-path="url(#c4)"/>
<circle cx="856.87" cy="522.73" r="5.1" fill="#4285f4" clip-path="url(#c4)"/>
<circle cx="887.48" cy="534.4" r="5.1" fill="#4285f4" clip-path="url(#c4)"/>
<circle cx="918.09" cy="546.08" r="5.1" fill="#4285f4" clip-path="url(#c4)"/>
<circle cx="948.7" cy="557.75" r="5.1" fill="#4285f4" clip-path="url(#c4)"/>
<text x="0" y="0" font-size="11.2" fill="#000" font-family="'Liberation Sans', 'DejaVu Sans', sans-serif" text-anchor="end" transform="translate(648.1 576.75) rotate(-45)" stroke="#000" stroke-width="0.3">0</text>
<text x="0" y="0" font-size="11.2" fill="#000" font-family="'Liberation Sans', 'DejaVu Sans', sans-serif" text-anchor="end" transform="translate(678.71 576.75) rotate(-45)" stroke="#000" stroke-width="0.3">5.77</text>
<text x="0" y="0" font-size="11.2" fill="#000" font-family="'Liberation Sans', 'DejaVu Sans', sans-serif" text-anchor="end" transform="translate(709.32 576.75) rotate(-45)" stroke="#000" stroke-width="0.3">10.72</text>
<text x="0" y="0" font-size="11.2" fill="#000" font-family="'Liberation Sans', 'DejaVu Sans', sans-serif" text-anchor="end" transform="translate(739.93 576.75) rotate(-45)" stroke="#000" stroke-width="0.3">18.42</text>
<text x="0" y="0" font-size="11.2" fill="#000" font-family="'Liberation Sans', 'DejaVu Sans', sans-serif" text-anchor="end" transform="translate(770.54 576.75) rotate(-45)" stroke="#000" stroke-width="0.3">25.73</text>
<text x="0" y="0" font-size="11.2" fill="#000" font-family="'Liberation Sans', 'DejaVu Sans', sans-serif" text-anchor="end" transform="translate(801.15 576.75) rotate(-45)" stroke="#000" stroke-width="0.3">39.28</text>
<text x="0" y="0" font-size="11.2" fill="#000" font-family="'Liberation Sans', 'DejaVu Sans', sans-serif" text-anchor="end" transform="translate(831.76 576.75) rotate(-45)" stroke="#000" stroke-width="0.3">51.29</text>
<text x="0" y="0" font-size="11.2" fill="#000" font-family="'Liberation Sans', 'DejaVu Sans', sans-serif" text-anchor="end" transform="translate(862.37 576.75) rotate(-45)" stroke="#000" stroke-width="0.3">65.93</text>
<text x="0" y="0" font-size="11.2" fill="#000" font-family="'Liberation Sans', 'DejaVu Sans', sans-serif" text-anchor="end" transform="translate(892.98 576.75) rotate(-45)" stroke="#000" stroke-width="0.3">76.83</text>
<text x="0" y="0" font-size="11.2" fill="#000" font-family="'Liberation Sans', 'DejaVu Sans', sans-serif" text-anchor="end" transform="translate(923.59 576.75) rotate(-45)" stroke="#000" stroke-width="0.3">116.62</text>
<text x="0" y="0" font-size="11.2" fill="#000" font-family="'Liberation Sans', 'DejaVu Sans', sans-serif" text-anchor="end" transform="translate(954.2 576.75) rotate(-45)" stroke="#000" stroke-width="0.3">121.66</text>
<text x="794.75" y="626.75" font-size="11.5" fill="#000" font-family="'Liberation Sans', 'DejaVu Sans', sans-serif" text-anchor="middle" textLength="43" lengthAdjust="spacingAndGlyphs" stroke="#000" stroke-width="0.35">time (s)</text>
<text x="0" y="0" font-size="11.5" fill="#000" font-family="'Liberation Sans', 'DejaVu Sans', sans-serif" text-anchor="middle" textLength="68.75" lengthAdjust="spacingAndGlyphs" transform="translate(573.5 518.1) rotate(-90)" stroke="#000" stroke-width="0.1">loose screws</text>
<text x="116.4" y="693.7" font-size="19.5" fill="#767676" font-family="'DejaVu Sans', 'Liberation Sans', sans-serif" font-weight="200" textLength="331.4" lengthAdjust="spacingAndGlyphs" stroke="#767676" stroke-width="0.3">Round 2 time(s) VS ln(loose screws)</text>
<ellipse cx="240.7" cy="711.8" rx="7.2" ry="6.6" fill="#4285f4"/>
<rect x="263" y="708.8" width="13.4" height="6" fill="#aac8fa"/>
<text x="282" y="715.6" font-size="10.3" fill="#000" font-family="'Liberation Sans', 'DejaVu Sans', sans-serif" textLength="145" lengthAdjust="spacingAndGlyphs" stroke="#000" stroke-width="0.2">-0.23*x + 2.55R² = 0.906</text>
<clipPath id="c5"><rect x="180.9" y="732.9" width="365.4" height="127.1"/></clipPath>
<line x1="180.9" y1="860" x2="545.8" y2="860" stroke="#d2d2d2" stroke-width="1.8"/>
<line x1="180.9" y1="851.56" x2="545.8" y2="851.56" stroke="#e6e6e6" stroke-width="1.5"/>
<line x1="180.9" y1="843.12" x2="545.8" y2="843.12" stroke="#e6e6e6" stroke-width="1.5"/>
<line x1="180.9" y1="834.68" x2="545.8" y2="834.68" stroke="#d2d2d2" stroke-width="1.8"/>
<line x1="180.9" y1="826.24" x2="545.8" y2="826.24" stroke="#e6e6e6" stroke-width="1.5"/>
<line x1="180.9" y1="817.8" x2="545.8" y2="817.8" stroke="#e6e6e6" stroke-width="1.5"/>
<line x1="180.9" y1="809.36" x2="545.8" y2="809.36" stroke="#d2d2d2" stroke-width="1.8"/>
<line x1="180.9" y1="800.92" x2="545.8" y2="800.92" stroke="#e6e6e6" stroke-width="1.5"/>
<line x1="180.9" y1="792.48" x2="545.8" y2="792.48" stroke="#e6e6e6" stroke-width="1.5"/>
<line x1="180.9" y1="784.04" x2="545.8" y2="784.04" stroke="#d2d2d2" stroke-width="1.8"/>
<line x1="180.9" y1="775.6" x2="545.8" y2="775.6" stroke="#e6e6e6" stroke-width="1.5"/>
<line x1="180.9" y1="767.16" x2="545.8" y2="767.16" stroke="#e6e6e6" stroke-width="1.5"/>
<line x1="180.9" y1="758.72" x2="545.8" y2="758.72" stroke="#d2d2d2" stroke-width="1.8"/>
<line x1="180.9" y1="750.28" x2="545.8" y2="750.28" stroke="#e6e6e6" stroke-width="1.5"/>
<line x1="180.9" y1="741.84" x2="545.8" y2="741.84" stroke="#e6e6e6" stroke-width="1.5"/>
<line x1="180.9" y1="733.4" x2="545.8" y2="733.4" stroke="#d2d2d2" stroke-width="1.8"/>
<line x1="180.9" y1="725.04" x2="545.8" y2="853.16" stroke="#aac8fa" stroke-width="3.5" clip-path="url(#c5)"/>
<line x1="180.9" y1="732.5" x2="180.9" y2="860.9" stroke="#000" stroke-width="1.8"/>
<line x1="174.4" y1="860" x2="545.8" y2="860" stroke="#000" stroke-width="1.8"/>
<line x1="174.4" y1="860" x2="188.9" y2="860" stroke="#000" stroke-width="1.8"/>
<line x1="176.9" y1="851.56" x2="184.4" y2="851.56" stroke="#000" stroke-width="1.8"/>
<line x1="176.9" y1="843.12" x2="184.4" y2="843.12" stroke="#000" stroke-width="1.8"/>
<line x1="174.4" y1="834.68" x2="188.9" y2="834.68" stroke="#000" stroke-width="1.8"/>
<line x1="176.9" y1="826.24" x2="184.4" y2="826.24" stroke="#000" stroke-width="1.8"/>
<line x1="176.9" y1="817.8" x2="184.4" y2="817.8" stroke="#000" stroke-width="1.8"/>
<line x1="174.4" y1="809.36" x2="188.9" y2="809.36" stroke="#000" stroke-width="1.8"/>
<line x1="176.9" y1="800.92" x2="184.4" y2="800.92" stroke="#000" stroke-width="1.8"/>
<line x1="176.9" y1="792.48" x2="184.4" y2="792.48" stroke="#000" stroke-width="1.8"/>
<line x1="174.4" y1="784.04" x2="188.9" y2="784.04" stroke="#000" stroke-width="1.8"/>
<line x1="176.9" y1="775.6" x2="184.4" y2="775.6" stroke="#000" stroke-width="1.8"/>
<line x1="176.9" y1="767.16" x2="184.4" y2="767.16" stroke="#000" stroke-width="1.8"/>
<line x1="174.4" y1="758.72" x2="188.9" y2="758.72" stroke="#000" stroke-width="1.8"/>
<line x1="176.9" y1="750.28" x2="184.4" y2="750.28" stroke="#000" stroke-width="1.8"/>
<line x1="176.9" y1="741.84" x2="184.4" y2="741.84" stroke="#000" stroke-width="1.8"/>
<line x1="174.4" y1="733.4" x2="188.9" y2="733.4" stroke="#000" stroke-width="1.8"/>
<line x1="197.49" y1="853.5" x2="197.49" y2="866.8" stroke="#000" stroke-width="1.8"/>
<line x1="230.66" y1="853.5" x2="230.66" y2="866.8" stroke="#000" stroke-width="1.8"/>
<line x1="263.83" y1="853.5" x2="263.83" y2="866.8" stroke="#000" stroke-width="1.8"/>
<line x1="297" y1="853.5" x2="297" y2="866.8" stroke="#000" stroke-width="1.8"/>
<line x1="330.18" y1="853.5" x2="330.18" y2="866.8" stroke="#000" stroke-width="1.8"/>
<line x1="363.35" y1="853.5" x2="363.35" y2="866.8" stroke="#000" stroke-width="1.8"/>
<line x1="396.52" y1="853.5" x2="396.52" y2="866.8" stroke="#000" stroke-width="1.8"/>
<line x1="429.7" y1="853.5" x2="429.7" y2="866.8" stroke="#000" stroke-width="1.8"/>
<line x1="462.87" y1="853.5" x2="462.87" y2="866.8" stroke="#000" stroke-width="1.8"/>
<line x1="496.04" y1="853.5" x2="496.04" y2="866.8" stroke="#000" stroke-width="1.8"/>
<line x1="529.21" y1="853.5" x2="529.21" y2="866.8" stroke="#000" stroke-width="1.8"/>
<text x="167.8" y="864" font-size="11.5" fill="#000" font-family="'Liberation Sans', 'DejaVu Sans', sans-serif" text-anchor="end" stroke="#000" stroke-width="0.35">0.0</text>
<text x="167.8" y="838.68" font-size="11.5" fill="#000" font-family="'Liberation Sans', 'DejaVu Sans', sans-serif" text-anchor="end" stroke="#000" stroke-width="0.35">0.5</text>
<text x="167.8" y="813.36" font-size="11.5" fill="#000" font-family="'Liberation Sans', 'DejaVu Sans', sans-serif" text-anchor="end" stroke="#000" stroke-width="0.35">1.0</text>
<text x="167.8" y="788.04" font-size="11.5" fill="#000" font-family="'Liberation Sans', 'DejaVu Sans', sans-serif" text-anchor="end" stroke="#000" stroke-width="0.35">1.5</text>
<text x="167.8" y="762.72" font-size="11.5" fill="#000" font-family="'Liberation Sans', 'DejaVu Sans', sans-serif" text-anchor="end" stroke="#000" stroke-width="0.35">2.0</text>
<text x="167.8" y="737.4" font-size="11.5" fill="#000" font-family="'Liberation Sans', 'DejaVu Sans', sans-serif" text-anchor="end" stroke="#000" stroke-width="0.35">2.5</text>
<circle cx="197.49" cy="743.4" r="5.1" fill="#4285f4" clip-path="url(#c5)"/>
<circle cx="230.66" cy="748.73" r="5.1" fill="#4285f4" clip-path="url(#c5)"/>
<circle cx="263.83" cy="754.7" r="5.1" fill="#4285f4" clip-path="url(#c5)"/>
<circle cx="297" cy="761.46" r="5.1" fill="#4285f4" clip-path="url(#c5)"/>
<circle cx="330.18" cy="769.27" r="5.1" fill="#4285f4" clip-path="url(#c5)"/>
<circle cx="363.35" cy="778.5" r="5.1" fill="#4285f4" clip-path="url(#c5)"/>
<circle cx="396.52" cy="789.8" r="5.1" fill="#4285f4" clip-path="url(#c5)"/>
<circle cx="429.7" cy="804.37" r="5.1" fill="#4285f4" clip-path="url(#c5)"/>
<circle cx="462.87" cy="824.9" r="5.1" fill="#4285f4" clip-path="url(#c5)"/>
<circle cx="496.04" cy="860" r="5.1" fill="#4285f4" clip-path="url(#c5)"/>
<text x="0" y="0" font-size="11.2" fill="#000" font-family="'Liberation Sans', 'DejaVu Sans', sans-serif" text-anchor="end" transform="translate(202.99 879) rotate(-45)" stroke="#000" stroke-width="0.3">0</text>
<text x="0" y="0" font-size="11.2" fill="#000" font-family="'Liberation Sans', 'DejaVu Sans', sans-serif" text-anchor="end" transform="translate(236.16 879) rotate(-45)" stroke="#000" stroke-width="0.3">5.77</text>
<text x="0" y="0" font-size="11.2" fill="#000" font-family="'Liberation Sans', 'DejaVu Sans', sans-serif" text-anchor="end" transform="translate(269.33 879) rotate(-45)" stroke="#000" stroke-width="0.3">10.72</text>
<text x="0" y="0" font-size="11.2" fill="#000" font-family="'Liberation Sans', 'DejaVu Sans', sans-serif" text-anchor="end" transform="translate(302.5 879) rotate(-45)" stroke="#000" stroke-width="0.3">18.42</text>
<text x="0" y="0" font-size="11.2" fill="#000" font-family="'Liberation Sans', 'DejaVu Sans', sans-serif" text-anchor="end" transform="translate(335.68 879) rotate(-45)" stroke="#000" stroke-width="0.3">25.73</text>
<text x="0" y="0" font-size="11.2" fill="#000" font-family="'Liberation Sans', 'DejaVu Sans', sans-serif" text-anchor="end" transform="translate(368.85 879) rotate(-45)" stroke="#000" stroke-width="0.3">39.28</text>
<text x="0" y="0" font-size="11.2" fill="#000" font-family="'Liberation Sans', 'DejaVu Sans', sans-serif" text-anchor="end" transform="translate(402.02 879) rotate(-45)" stroke="#000" stroke-width="0.3">51.29</text>
<text x="0" y="0" font-size="11.2" fill="#000" font-family="'Liberation Sans', 'DejaVu Sans', sans-serif" text-anchor="end" transform="translate(435.2 879) rotate(-45)" stroke="#000" stroke-width="0.3">65.93</text>
<text x="0" y="0" font-size="11.2" fill="#000" font-family="'Liberation Sans', 'DejaVu Sans', sans-serif" text-anchor="end" transform="translate(468.37 879) rotate(-45)" stroke="#000" stroke-width="0.3">76.83</text>
<text x="0" y="0" font-size="11.2" fill="#000" font-family="'Liberation Sans', 'DejaVu Sans', sans-serif" text-anchor="end" transform="translate(501.54 879) rotate(-45)" stroke="#000" stroke-width="0.3">116.62</text>
<text x="0" y="0" font-size="11.2" fill="#000" font-family="'Liberation Sans', 'DejaVu Sans', sans-serif" text-anchor="end" transform="translate(534.71 879) rotate(-45)" stroke="#000" stroke-width="0.3">121.66</text>
<text x="362.6" y="928.75" font-size="11.5" fill="#000" font-family="'Liberation Sans', 'DejaVu Sans', sans-serif" text-anchor="middle" textLength="42.75" lengthAdjust="spacingAndGlyphs" stroke="#000" stroke-width="0.35">time (s)</text>
<text x="0" y="0" font-size="11.5" fill="#000" font-family="'Liberation Sans', 'DejaVu Sans', sans-serif" text-anchor="middle" textLength="89.3" lengthAdjust="spacingAndGlyphs" transform="translate(127 815.3) rotate(-90)" stroke="#000" stroke-width="0.1">ln (loose screws)</text>
<text x="582.6" y="673.6" font-size="19.5" fill="#767676" font-family="'DejaVu Sans', 'Liberation Sans', sans-serif" font-weight="200" textLength="324.8" lengthAdjust="spacingAndGlyphs" stroke="#767676" stroke-width="0.3">Round 2 time (s) VS 1/loose screws</text>
<ellipse cx="707.9" cy="694" rx="7.2" ry="6.6" fill="#4285f4"/>
<rect x="730.3" y="691" width="12.3" height="6" fill="#aac8fa"/>
<text x="748.7" y="697.8" font-size="10.3" fill="#000" font-family="'Liberation Sans', 'DejaVu Sans', sans-serif" textLength="173.5" lengthAdjust="spacingAndGlyphs" stroke="#000" stroke-width="0.2">0.0741*x + -0.0403R² = 0.654</text>
<clipPath id="c6"><rect x="650" y="714.4" width="392" height="146"/></clipPath>
<line x1="650" y1="860.4" x2="1041.5" y2="860.4" stroke="#d2d2d2" stroke-width="1.8"/>
<line x1="650" y1="848.27" x2="1041.5" y2="848.27" stroke="#e6e6e6" stroke-width="1.5"/>
<line x1="650" y1="836.15" x2="1041.5" y2="836.15" stroke="#e6e6e6" stroke-width="1.5"/>
<line x1="650" y1="824.02" x2="1041.5" y2="824.02" stroke="#d2d2d2" stroke-width="1.8"/>
<line x1="650" y1="811.9" x2="1041.5" y2="811.9" stroke="#e6e6e6" stroke-width="1.5"/>
<line x1="650" y1="799.77" x2="1041.5" y2="799.77" stroke="#e6e6e6" stroke-width="1.5"/>
<line x1="650" y1="787.65" x2="1041.5" y2="787.65" stroke="#d2d2d2" stroke-width="1.8"/>
<line x1="650" y1="775.52" x2="1041.5" y2="775.52" stroke="#e6e6e6" stroke-width="1.5"/>
<line x1="650" y1="763.4" x2="1041.5" y2="763.4" stroke="#e6e6e6" stroke-width="1.5"/>
<line x1="650" y1="751.27" x2="1041.5" y2="751.27" stroke="#d2d2d2" stroke-width="1.8"/>
<line x1="650" y1="739.15" x2="1041.5" y2="739.15" stroke="#e6e6e6" stroke-width="1.5"/>
<line x1="650" y1="727.02" x2="1041.5" y2="727.02" stroke="#e6e6e6" stroke-width="1.5"/>
<line x1="650" y1="714.9" x2="1041.5" y2="714.9" stroke="#d2d2d2" stroke-width="1.8"/>
<line x1="650" y1="871.65" x2="1041.5" y2="753.06" stroke="#aac8fa" stroke-width="3.5" clip-path="url(#c6)"/>
<line x1="650" y1="714" x2="650" y2="861.3" stroke="#000" stroke-width="1.8"/>
<line x1="643.5" y1="860.4" x2="1041.5" y2="860.4" stroke="#000" stroke-width="1.8"/>
<line x1="643.5" y1="860.4" x2="658" y2="860.4" stroke="#000" stroke-width="1.8"/>
<line x1="646" y1="848.27" x2="653.5" y2="848.27" stroke="#000" stroke-width="1.8"/>
<line x1="646" y1="836.15" x2="653.5" y2="836.15" stroke="#000" stroke-width="1.8"/>
<line x1="643.5" y1="824.02" x2="658" y2="824.02" stroke="#000" stroke-width="1.8"/>
<line x1="646" y1="811.9" x2="653.5" y2="811.9" stroke="#000" stroke-width="1.8"/>
<line x1="646" y1="799.77" x2="653.5" y2="799.77" stroke="#000" stroke-width="1.8"/>
<line x1="643.5" y1="787.65" x2="658" y2="787.65" stroke="#000" stroke-width="1.8"/>
<line x1="646" y1="775.52" x2="653.5" y2="775.52" stroke="#000" stroke-width="1.8"/>
<line x1="646" y1="763.4" x2="653.5" y2="763.4" stroke="#000" stroke-width="1.8"/>
<line x1="643.5" y1="751.27" x2="658" y2="751.27" stroke="#000" stroke-width="1.8"/>
<line x1="646" y1="739.15" x2="653.5" y2="739.15" stroke="#000" stroke-width="1.8"/>
<line x1="646" y1="727.02" x2="653.5" y2="727.02" stroke="#000" stroke-width="1.8"/>
<line x1="643.5" y1="714.9" x2="658" y2="714.9" stroke="#000" stroke-width="1.8"/>
<line x1="667.8" y1="853.9" x2="667.8" y2="867.2" stroke="#000" stroke-width="1.8"/>
<line x1="703.39" y1="853.9" x2="703.39" y2="867.2" stroke="#000" stroke-width="1.8"/>
<line x1="738.98" y1="853.9" x2="738.98" y2="867.2" stroke="#000" stroke-width="1.8"/>
<line x1="774.57" y1="853.9" x2="774.57" y2="867.2" stroke="#000" stroke-width="1.8"/>
<line x1="810.16" y1="853.9" x2="810.16" y2="867.2" stroke="#000" stroke-width="1.8"/>
<line x1="845.75" y1="853.9" x2="845.75" y2="867.2" stroke="#000" stroke-width="1.8"/>
<line x1="881.34" y1="853.9" x2="881.34" y2="867.2" stroke="#000" stroke-width="1.8"/>
<line x1="916.93" y1="853.9" x2="916.93" y2="867.2" stroke="#000" stroke-width="1.8"/>
<line x1="952.52" y1="853.9" x2="952.52" y2="867.2" stroke="#000" stroke-width="1.8"/>
<line x1="988.11" y1="853.9" x2="988.11" y2="867.2" stroke="#000" stroke-width="1.8"/>
<line x1="1023.7" y1="853.9" x2="1023.7" y2="867.2" stroke="#000" stroke-width="1.8"/>
<text x="638" y="864.4" font-size="11.5" fill="#000" font-family="'Liberation Sans', 'DejaVu Sans', sans-serif" text-anchor="end" stroke="#000" stroke-width="0.35">0.00</text>
<text x="638" y="828.02" font-size="11.5" fill="#000" font-family="'Liberation Sans', 'DejaVu Sans', sans-serif" text-anchor="end" stroke="#000" stroke-width="0.35">0.25</text>
<text x="638" y="791.65" font-size="11.5" fill="#000" font-family="'Liberation Sans', 'DejaVu Sans', sans-serif" text-anchor="end" stroke="#000" stroke-width="0.35">0.50</text>
<text x="638" y="755.27" font-size="11.5" fill="#000" font-family="'Liberation Sans', 'DejaVu Sans', sans-serif" text-anchor="end" stroke="#000" stroke-width="0.35">0.75</text>
<text x="638" y="718.9" font-size="11.5" fill="#000" font-family="'Liberation Sans', 'DejaVu Sans', sans-serif" text-anchor="end" stroke="#000" stroke-width="0.35">1.00</text>
<circle cx="667.8" cy="845.85" r="5.1" fill="#4285f4" clip-path="url(#c6)"/>
<circle cx="703.39" cy="844.23" r="5.1" fill="#4285f4" clip-path="url(#c6)"/>
<circle cx="738.98" cy="842.21" r="5.1" fill="#4285f4" clip-path="url(#c6)"/>
<circle cx="774.57" cy="839.61" r="5.1" fill="#4285f4" clip-path="url(#c6)"/>
<circle cx="810.16" cy="836.15" r="5.1" fill="#4285f4" clip-path="url(#c6)"/>
<circle cx="845.75" cy="831.3" r="5.1" fill="#4285f4" clip-path="url(#c6)"/>
<circle cx="881.34" cy="824.02" r="5.1" fill="#4285f4" clip-path="url(#c6)"/>
<circle cx="916.93" cy="811.9" r="5.1" fill="#4285f4" clip-path="url(#c6)"/>
<circle cx="952.52" cy="787.65" r="5.1" fill="#4285f4" clip-path="url(#c6)"/>
<circle cx="988.11" cy="714.9" r="5.1" fill="#4285f4" clip-path="url(#c6)"/>
<text x="0" y="0" font-size="11.2" fill="#000" font-family="'Liberation Sans', 'DejaVu Sans', sans-serif" text-anchor="end" transform="translate(673.3 879.4) rotate(-45)" stroke="#000" stroke-width="0.3">0</text>
<text x="0" y="0" font-size="11.2" fill="#000" font-family="'Liberation Sans', 'DejaVu Sans', sans-serif" text-anchor="end" transform="translate(708.89 879.4) rotate(-45)" stroke="#000" stroke-width="0.3">5.77</text>
<text x="0" y="0" font-size="11.2" fill="#000" font-family="'Liberation Sans', 'DejaVu Sans', sans-serif" text-anchor="end" transform="translate(744.48 879.4) rotate(-45)" stroke="#000" stroke-width="0.3">10.72</text>
<text x="0" y="0" font-size="11.2" fill="#000" font-family="'Liberation Sans', 'DejaVu Sans', sans-serif" text-anchor="end" transform="translate(780.07 879.4) rotate(-45)" stroke="#000" stroke-width="0.3">18.42</text>
<text x="0" y="0" font-size="11.2" fill="#000" font-family="'Liberation Sans', 'DejaVu Sans', sans-serif" text-anchor="end" transform="translate(815.66 879.4) rotate(-45)" stroke="#000" stroke-width="0.3">25.73</text>
<text x="0" y="0" font-size="11.2" fill="#000" font-family="'Liberation Sans', 'DejaVu Sans', sans-serif" text-anchor="end" transform="translate(851.25 879.4) rotate(-45)" stroke="#000" stroke-width="0.3">39.28</text>
<text x="0" y="0" font-size="11.2" fill="#000" font-family="'Liberation Sans', 'DejaVu Sans', sans-serif" text-anchor="end" transform="translate(886.84 879.4) rotate(-45)" stroke="#000" stroke-width="0.3">51.29</text>
<text x="0" y="0" font-size="11.2" fill="#000" font-family="'Liberation Sans', 'DejaVu Sans', sans-serif" text-anchor="end" transform="translate(922.43 879.4) rotate(-45)" stroke="#000" stroke-width="0.3">65.93</text>
<text x="0" y="0" font-size="11.2" fill="#000" font-family="'Liberation Sans', 'DejaVu Sans', sans-serif" text-anchor="end" transform="translate(958.02 879.4) rotate(-45)" stroke="#000" stroke-width="0.3">76.83</text>
<text x="0" y="0" font-size="11.2" fill="#000" font-family="'Liberation Sans', 'DejaVu Sans', sans-serif" text-anchor="end" transform="translate(993.61 879.4) rotate(-45)" stroke="#000" stroke-width="0.3">116.62</text>
<text x="0" y="0" font-size="11.2" fill="#000" font-family="'Liberation Sans', 'DejaVu Sans', sans-serif" text-anchor="end" transform="translate(1029.2 879.4) rotate(-45)" stroke="#000" stroke-width="0.3">121.66</text>
<text x="845.1" y="927.5" font-size="11.5" fill="#000" font-family="'Liberation Sans', 'DejaVu Sans', sans-serif" text-anchor="middle" textLength="41.75" lengthAdjust="spacingAndGlyphs" stroke="#000" stroke-width="0.35">time (s)</text>
<text x="0" y="0" font-size="11.5" fill="#000" font-family="'Liberation Sans', 'DejaVu Sans', sans-serif" text-anchor="middle" textLength="77.5" lengthAdjust="spacingAndGlyphs" transform="translate(593.4 805.3) rotate(-90)" stroke="#000" stroke-width="0.1">1/loose screws</text>
</svg>
</body></html>
